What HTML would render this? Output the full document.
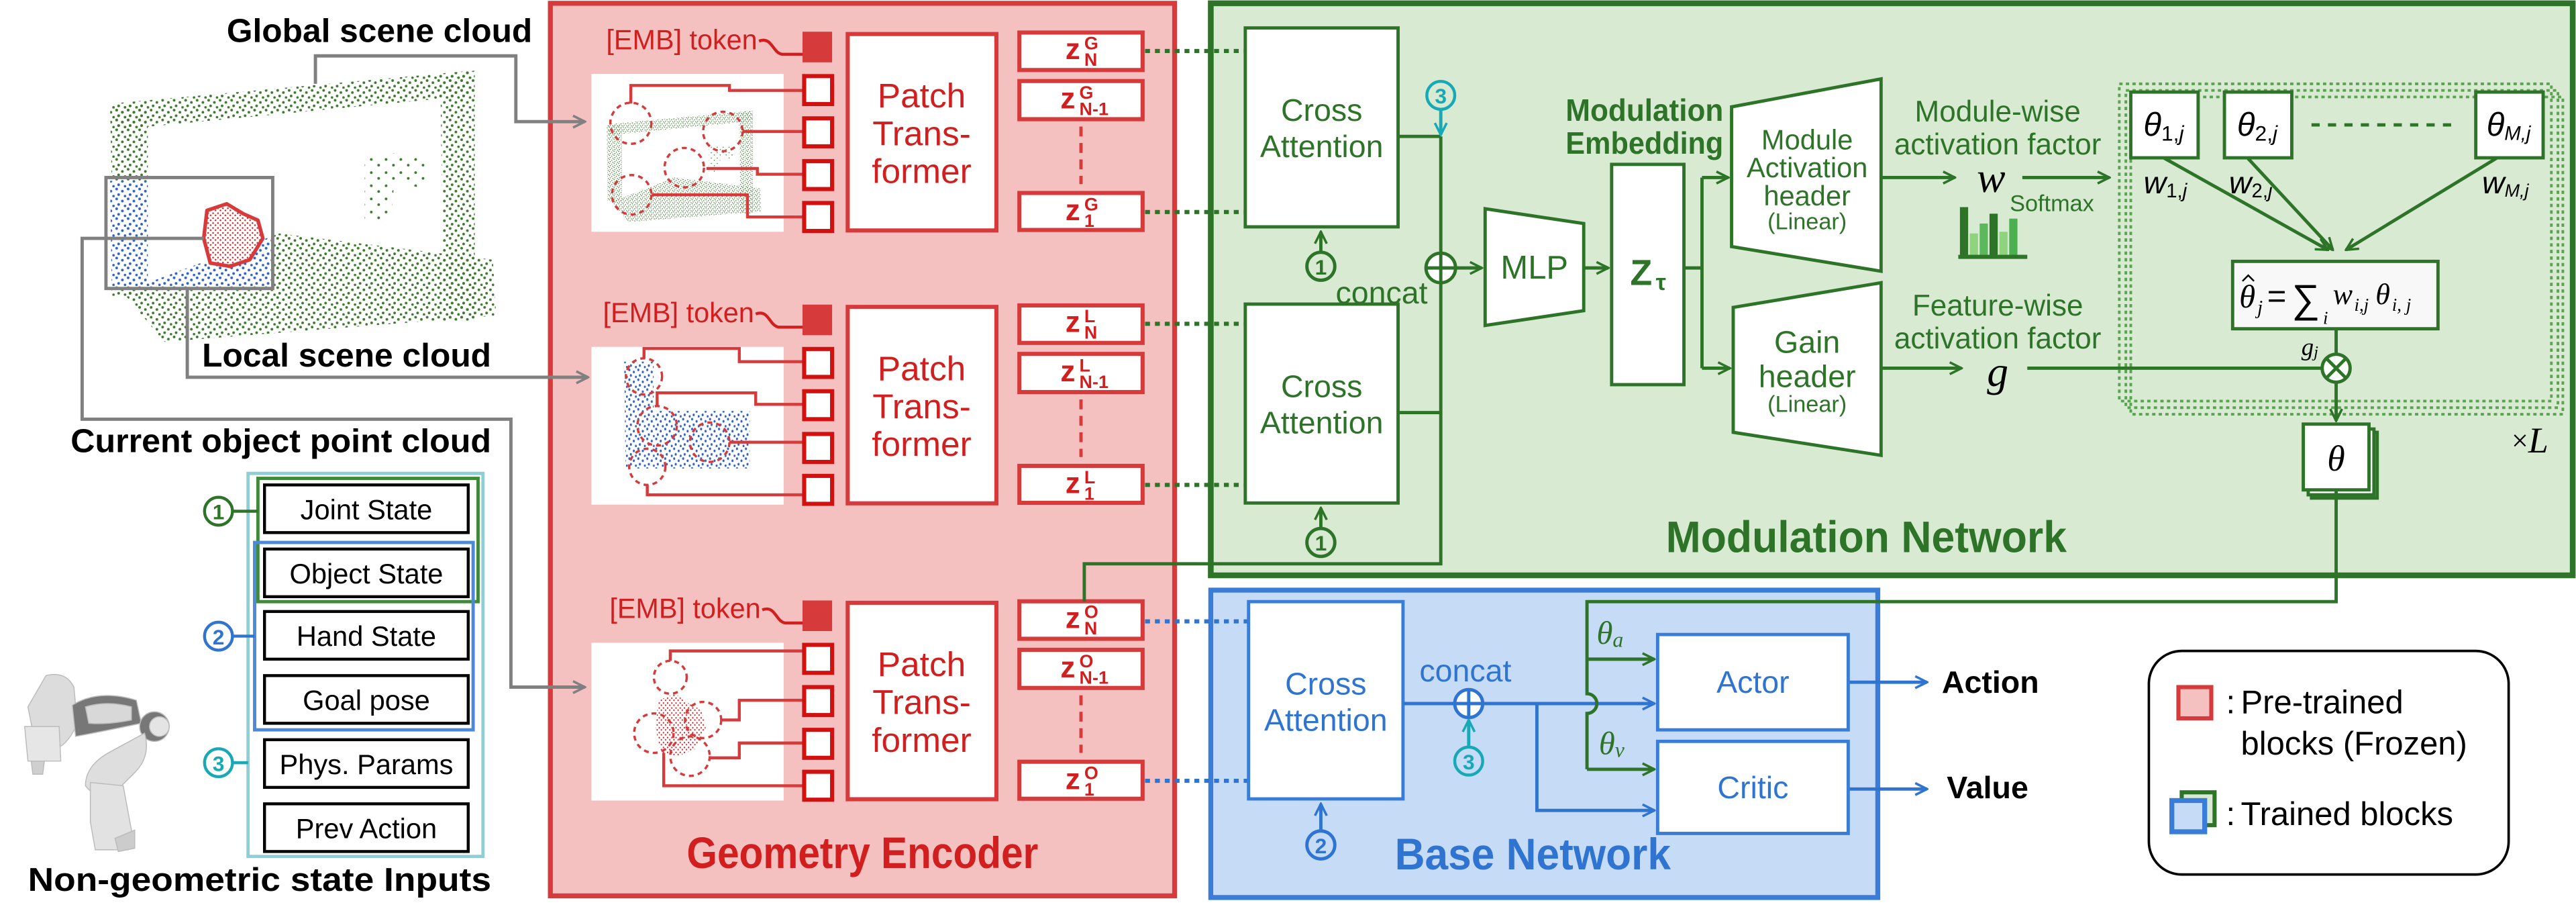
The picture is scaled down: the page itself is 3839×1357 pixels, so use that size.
<!DOCTYPE html>
<html><head><meta charset="utf-8">
<style>
html,body{margin:0;padding:0;background:#fff;}
svg{display:block;}
text{font-family:"Liberation Sans Narrow","Liberation Sans",sans-serif;}
.m{font-family:"Liberation Serif",serif;font-style:italic;}
.rt{fill:#d11f1f;}
</style></head>
<body>
<svg xmlns="http://www.w3.org/2000/svg" width="3839" height="1357" viewBox="0 0 1568 554.2" preserveAspectRatio="none">
<defs>
<marker id="ag" viewBox="0 0 10 10" refX="9" refY="5" markerWidth="9" markerHeight="9" markerUnits="userSpaceOnUse" orient="auto"><path d="M1,1 L9,5 L1,9" fill="none" stroke="#808080" stroke-width="1.6"/></marker>
<marker id="agr" viewBox="0 0 10 10" refX="9" refY="5" markerWidth="9" markerHeight="9" markerUnits="userSpaceOnUse" orient="auto"><path d="M1,1 L9,5 L1,9" fill="none" stroke="#2e7428" stroke-width="1.6"/></marker>
<marker id="abl" viewBox="0 0 10 10" refX="9" refY="5" markerWidth="9" markerHeight="9" markerUnits="userSpaceOnUse" orient="auto"><path d="M1,1 L9,5 L1,9" fill="none" stroke="#2f74d0" stroke-width="1.6"/></marker>
<marker id="atl" viewBox="0 0 10 10" refX="9" refY="5" markerWidth="9" markerHeight="9" markerUnits="userSpaceOnUse" orient="auto"><path d="M1,1 L9,5 L1,9" fill="none" stroke="#17a9b6" stroke-width="1.6"/></marker>
<pattern id="pg" width="7" height="6" patternUnits="userSpaceOnUse"><g fill="#3d7a2e"><circle cx="1" cy="1" r=".8"/><circle cx="4.5" cy="2.3" r=".8"/><circle cx="2.2" cy="4.4" r=".8"/><circle cx="6.1" cy="5.3" r=".75"/></g></pattern>
<pattern id="pgs" width="9" height="8" patternUnits="userSpaceOnUse"><g fill="#3d7a2e"><circle cx="1" cy="1" r=".8"/><circle cx="5.5" cy="4.5" r=".8"/></g></pattern>
<pattern id="pb" width="7" height="6" patternUnits="userSpaceOnUse"><g fill="#2f62c8"><circle cx="1" cy="1" r=".8"/><circle cx="4.5" cy="2.3" r=".8"/><circle cx="2.2" cy="4.4" r=".8"/><circle cx="6.1" cy="5.3" r=".75"/></g></pattern>
<pattern id="pr" width="3" height="3" patternUnits="userSpaceOnUse"><g fill="#d11f1f"><circle cx=".7" cy=".7" r=".5"/><circle cx="2.2" cy="2" r=".5"/></g></pattern>
<g id="cloudG">
<polygon points="68,63 287,43 289,58 70,79" fill="url(#pg)"/>
<polygon points="67,65 90,63 90,110 68,110" fill="url(#pg)"/>
<polygon points="268,45 289,43 289,195 270,195" fill="url(#pg)"/>
<polygon points="75,178 170,142 300,158 302,192 100,208" fill="url(#pg)"/>
<polygon points="222,135 222,97 245,92 262,100 258,115 240,110 238,135" fill="url(#pgs)"/>
</g>
<g id="cloudB">
<polygon points="67,110 90,110 90,175 68,175" fill="url(#pb)"/>
<polygon points="90,172 165,144 165,175 90,175" fill="url(#pb)"/>
</g>
</defs>

<!-- ===== Big panels ===== -->
<rect x="335" y="2" width="380" height="543" fill="#f5c0c0" stroke="#d63a3a" stroke-width="3"/>
<rect x="737" y="2" width="829" height="348" fill="#d9ead3" stroke="#2e7428" stroke-width="3.5"/>
<rect x="737" y="359" width="406" height="187" fill="#c6dbf6" stroke="#3a7dd8" stroke-width="3"/>

<!-- ===== Left: point cloud ===== -->
<polygon points="68,63 287,43 289,58 70,79" fill="url(#pg)"/>
<polygon points="67,65 90,63 90,110 68,110" fill="url(#pg)"/>
<polygon points="68,175 90,175 90,180 68,180" fill="url(#pg)"/>
<polygon points="268,45 289,43 289,195 270,195" fill="url(#pg)"/>
<polygon points="75,178 170,142 300,158 302,192 100,208" fill="url(#pg)"/>
<polygon points="222,135 222,97 245,92 262,100 258,115 240,110 238,135" fill="url(#pgs)"/>
<polygon points="90,172 165,144 166,176 90,176" fill="#fff"/>
<polygon points="67,110 90,110 90,175 68,175" fill="url(#pb)"/>
<polygon points="90,172 165,144 165,175 90,175" fill="url(#pb)"/>
<path d="M126,128 L138,124 L148,130 L157,134 L160,145 L152,158 L140,162 L128,160 L124,145 Z" fill="#fff"/>
<path d="M126,128 L138,124 L148,130 L157,134 L160,145 L152,158 L140,162 L128,160 L124,145 Z" fill="url(#pr)" stroke="#d63a3a" stroke-width="2.2" stroke-linejoin="round"/>

<text x="231" y="25.5" font-size="20" font-weight="bold" text-anchor="middle" textLength="186" lengthAdjust="spacingAndGlyphs">Global scene cloud</text>
<text x="211" y="223" font-size="20" font-weight="bold" text-anchor="middle" textLength="176" lengthAdjust="spacingAndGlyphs">Local scene cloud</text>
<text x="171" y="275" font-size="20" font-weight="bold" text-anchor="middle" textLength="256" lengthAdjust="spacingAndGlyphs">Current object point cloud</text>
<rect x="64.5" y="108" width="101.5" height="67.5" fill="none" stroke="#808080" stroke-width="2"/>
<path d="M192,51 V34 H314 V74 H356" fill="none" stroke="#808080" stroke-width="2" marker-end="url(#ag)"/>
<path d="M114,175.5 V229.5 H358" fill="none" stroke="#808080" stroke-width="2" marker-end="url(#ag)"/>
<path d="M124,145 H50 V255 H311 V418 H356" fill="none" stroke="#808080" stroke-width="2" marker-end="url(#ag)"/>

<!-- state inputs -->
<rect x="151" y="288" width="143" height="233" fill="none" stroke="#8ccfd6" stroke-width="2"/>
<rect x="157" y="291" width="134" height="75" fill="none" stroke="#3f8a3a" stroke-width="2"/>
<rect x="155" y="330" width="133" height="114" fill="none" stroke="#4a8ad8" stroke-width="2"/>
<g fill="#fff" stroke="#000" stroke-width="1.8">
<rect x="161" y="295" width="124" height="29"/><rect x="161" y="334" width="124" height="29"/>
<rect x="161" y="372" width="124" height="29"/><rect x="161" y="411" width="124" height="29"/>
<rect x="161" y="450" width="124" height="29"/><rect x="161" y="489" width="124" height="29"/>
</g>
<g font-size="17" text-anchor="middle" fill="#000" dominant-baseline="central">
<text x="223" y="310">Joint State</text><text x="223" y="349">Object State</text>
<text x="223" y="387">Hand State</text><text x="223" y="426">Goal pose</text>
<text x="223" y="465">Phys. Params</text><text x="223" y="504">Prev Action</text>
</g>
<g stroke-width="1.8" fill="none">
<circle cx="133" cy="311" r="8.5" stroke="#2e7428"/><path d="M141.5,311 H157" stroke="#2e7428"/>
<circle cx="133" cy="387" r="8.5" stroke="#2f74d0"/><path d="M141.5,387 H155" stroke="#2f74d0"/>
<circle cx="133" cy="464" r="8.5" stroke="#17a9b6"/><path d="M141.5,464 H151" stroke="#17a9b6"/>
</g>
<g font-size="13" font-weight="bold" text-anchor="middle" dominant-baseline="central">
<text x="133" y="311.5" fill="#2e7428">1</text><text x="133" y="387.5" fill="#2f74d0">2</text><text x="133" y="464.5" fill="#17a9b6">3</text>
</g>
<text x="158" y="542" font-size="20" font-weight="bold" text-anchor="middle" textLength="282" lengthAdjust="spacingAndGlyphs">Non-geometric state Inputs</text>

<!-- robot -->
<g stroke="#bbb" stroke-width="0.6">
<path d="M28,411 Q40,408 45,418 L47,440 Q42,452 35,455 L22,455 L17,430 Z" fill="#dcdcdc"/>
<path d="M15,442 L36,442 L37,463 L17,463 Z" fill="#e6e6e6"/>
<path d="M19,463 L27,463 L26,471 L20,471 Z" fill="#cfcfcf"/>
<path d="M44,429 Q60,419 83,426 L86,440 Q62,445 46,448 Z" fill="#777"/>
<path d="M52,430 Q65,426 80,430 L80,438 Q65,441 54,440 Z" fill="#d8d8d8"/>
<circle cx="94" cy="442" r="9" fill="#777"/><circle cx="97" cy="442" r="6" fill="#e4e4e4"/>
<path d="M88,446 Q92,460 82,470 L70,482 Q60,488 52,478 Q52,466 66,458 Z" fill="#dedede"/>
<path d="M55,476 L75,478 L80,505 L78,517 L58,517 L55,500 Z" fill="#e2e2e2"/>
<path d="M70,510 L82,505 L82,516 L72,518 Z" fill="#ccc"/>
</g>

<!-- ===== Geometry Encoder rows ===== -->
<!-- Row 1 -->
<g>
<text x="415" y="30" font-size="17" class="rt" text-anchor="middle" textLength="92" lengthAdjust="spacingAndGlyphs">[EMB] token</text>
<path d="M462,25 C470,22 470,32 476,33 L489,33" fill="none" stroke="#d11f1f" stroke-width="1.8"/>
<rect x="488.5" y="19.3" width="18" height="18.6" fill="#d63a3a"/>
<rect x="360" y="45" width="117" height="96" fill="#fff"/>
<g transform="translate(342.6,49.8) scale(0.4,0.41)">
<polygon points="68,63 287,43 289,58 70,79" fill="url(#pg)"/>
<polygon points="67,65 90,63 90,178 68,178" fill="url(#pg)"/>
<polygon points="268,45 289,43 289,195 270,195" fill="url(#pg)"/>
<polygon points="75,178 170,142 300,158 302,192 100,208" fill="url(#pg)"/>
<polygon points="222,135 222,97 245,92 262,100 258,115 240,110 238,135" fill="url(#pgs)"/>
</g>
<g fill="none" stroke="#d63a3a" stroke-width="1.4" stroke-dasharray="3 2.5">
<circle cx="384" cy="75" r="12.5"/><circle cx="440" cy="80" r="12"/><circle cx="416.5" cy="102" r="12"/><circle cx="384.5" cy="118.5" r="12"/>
</g>
<g fill="none" stroke="#d63a3a" stroke-width="1.8">
<path d="M384,63 V52 H444 V55 H489"/><path d="M452,80 H489"/><path d="M430,102.5 H461 V106 H489"/><path d="M397,118.5 H455 V132 H489"/>
</g>
<g fill="#fff" stroke="#d11010" stroke-width="2.5">
<rect x="489.5" y="46.3" width="17" height="17"/><rect x="489.5" y="72" width="17" height="17"/><rect x="489.5" y="98" width="17" height="17"/><rect x="489.5" y="123.5" width="17" height="17"/>
</g>
<rect x="516" y="20.7" width="90.5" height="119.5" fill="#fff" stroke="#d63a3a" stroke-width="2.5"/>
<g font-size="21" class="rt" text-anchor="middle" dominant-baseline="central"><text x="561" y="58">Patch</text><text x="561" y="81">Trans-</text><text x="561" y="104">former</text></g>
<g fill="#fff" stroke="#d63a3a" stroke-width="2.5">
<rect x="620.5" y="19.8" width="75" height="22.8"/><rect x="620.5" y="49.3" width="75" height="23.2"/><rect x="620.5" y="117.4" width="75" height="22.5"/>
</g>
<path d="M658,77 V112" stroke="#d63a3a" stroke-width="2" stroke-dasharray="6 4"/>
<g class="rt" font-weight="bold">
<text x="653" y="36" font-size="18" text-anchor="middle">z</text><text x="660" y="30" font-size="11">G</text><text x="660" y="40" font-size="11">N</text>
<text x="650" y="66" font-size="18" text-anchor="middle">z</text><text x="657" y="60" font-size="11">G</text><text x="657" y="70" font-size="11">N-1</text>
<text x="653" y="134" font-size="18" text-anchor="middle">z</text><text x="660" y="128" font-size="11">G</text><text x="660" y="138" font-size="11">1</text>
</g>
</g>

<!-- Row 2 -->
<g transform="translate(0,166)">
<text x="413" y="30" font-size="17" class="rt" text-anchor="middle" textLength="92" lengthAdjust="spacingAndGlyphs">[EMB] token</text>
<path d="M460,25 C468,22 468,32 474,33 L489,33" fill="none" stroke="#d11f1f" stroke-width="1.8"/>
<rect x="488.5" y="19.3" width="18" height="18.6" fill="#d63a3a"/>
<rect x="360" y="45" width="117" height="96" fill="#fff"/>
<g transform="translate(327.7,-56) scale(0.78,1.0)">
<polygon points="67,110 90,110 90,175 68,175" fill="url(#pb)"/>
<polygon points="90,140 165,140 165,175 90,175" fill="url(#pb)"/>
</g>
<g fill="none" stroke="#d63a3a" stroke-width="1.4" stroke-dasharray="3 2.5">
<circle cx="392" cy="63" r="11"/><circle cx="400" cy="93" r="12"/><circle cx="432" cy="103" r="12"/><circle cx="394" cy="118" r="11"/>
</g>
<g fill="none" stroke="#d63a3a" stroke-width="1.8">
<path d="M392,52 V46 H450 V54 H489"/><path d="M400,81 V73 H460 V80 H489"/><path d="M444,103 H489"/><path d="M394,129 V135 H489"/>
</g>
<g fill="#fff" stroke="#d11010" stroke-width="2.5">
<rect x="489.5" y="46.3" width="17" height="17"/><rect x="489.5" y="72" width="17" height="17"/><rect x="489.5" y="98" width="17" height="17"/><rect x="489.5" y="123.5" width="17" height="17"/>
</g>
<rect x="516" y="20.7" width="90.5" height="119.5" fill="#fff" stroke="#d63a3a" stroke-width="2.5"/>
<g font-size="21" class="rt" text-anchor="middle" dominant-baseline="central"><text x="561" y="58">Patch</text><text x="561" y="81">Trans-</text><text x="561" y="104">former</text></g>
<g fill="#fff" stroke="#d63a3a" stroke-width="2.5">
<rect x="620.5" y="19.8" width="75" height="22.8"/><rect x="620.5" y="49.3" width="75" height="23.2"/><rect x="620.5" y="117.4" width="75" height="22.5"/>
</g>
<path d="M658,77 V112" stroke="#d63a3a" stroke-width="2" stroke-dasharray="6 4"/>
<g class="rt" font-weight="bold">
<text x="653" y="36" font-size="18" text-anchor="middle">z</text><text x="660" y="30" font-size="11">L</text><text x="660" y="40" font-size="11">N</text>
<text x="650" y="66" font-size="18" text-anchor="middle">z</text><text x="657" y="60" font-size="11">L</text><text x="657" y="70" font-size="11">N-1</text>
<text x="653" y="134" font-size="18" text-anchor="middle">z</text><text x="660" y="128" font-size="11">L</text><text x="660" y="138" font-size="11">1</text>
</g>
</g>

<!-- Row 3 -->
<g transform="translate(0,346)">
<text x="417" y="30" font-size="17" class="rt" text-anchor="middle" textLength="92" lengthAdjust="spacingAndGlyphs">[EMB] token</text>
<path d="M464,25 C472,22 472,32 478,33 L489,33" fill="none" stroke="#d11f1f" stroke-width="1.8"/>
<rect x="488.5" y="19.3" width="18" height="18.6" fill="#d63a3a"/>
<rect x="360" y="45" width="117" height="96" fill="#fff"/>
<g transform="translate(293.6,-48) scale(0.85,1.0)">
<path d="M126,128 L138,124 L148,130 L157,134 L160,145 L152,158 L140,162 L128,160 L124,145 Z" fill="url(#pr)"/>
</g>
<g fill="none" stroke="#d63a3a" stroke-width="1.4" stroke-dasharray="3 2.5">
<circle cx="408" cy="66" r="10"/><circle cx="428" cy="92" r="11"/><circle cx="398" cy="100" r="12"/><circle cx="420" cy="114" r="12"/>
</g>
<g fill="none" stroke="#d63a3a" stroke-width="1.8">
<path d="M408,56 V50 H489"/><path d="M439,92 H450 V80 H489"/><path d="M432,115 H450 V106 H489"/><path d="M404,112 V132 H489"/>
</g>
<g fill="#fff" stroke="#d11010" stroke-width="2.5">
<rect x="489.5" y="46.3" width="17" height="17"/><rect x="489.5" y="72" width="17" height="17"/><rect x="489.5" y="98" width="17" height="17"/><rect x="489.5" y="123.5" width="17" height="17"/>
</g>
<rect x="516" y="20.7" width="90.5" height="119.5" fill="#fff" stroke="#d63a3a" stroke-width="2.5"/>
<g font-size="21" class="rt" text-anchor="middle" dominant-baseline="central"><text x="561" y="58">Patch</text><text x="561" y="81">Trans-</text><text x="561" y="104">former</text></g>
<g fill="#fff" stroke="#d63a3a" stroke-width="2.5">
<rect x="620.5" y="19.8" width="75" height="22.8"/><rect x="620.5" y="49.3" width="75" height="23.2"/><rect x="620.5" y="117.4" width="75" height="22.5"/>
</g>
<path d="M658,77 V112" stroke="#d63a3a" stroke-width="2" stroke-dasharray="6 4"/>
<g class="rt" font-weight="bold">
<text x="653" y="36" font-size="18" text-anchor="middle">z</text><text x="660" y="30" font-size="11">O</text><text x="660" y="40" font-size="11">N</text>
<text x="650" y="66" font-size="18" text-anchor="middle">z</text><text x="657" y="60" font-size="11">O</text><text x="657" y="70" font-size="11">N-1</text>
<text x="653" y="134" font-size="18" text-anchor="middle">z</text><text x="660" y="128" font-size="11">O</text><text x="660" y="138" font-size="11">1</text>
</g>
</g>

<text x="525" y="528" font-size="27" font-weight="bold" fill="#d11f1f" text-anchor="middle" textLength="214" lengthAdjust="spacingAndGlyphs">Geometry Encoder</text>

<!-- dotted links -->
<g stroke="#2e7428" stroke-width="2.5" stroke-dasharray="3 3">
<path d="M697,31 H758"/><path d="M697,129 H758"/><path d="M697,197 H758"/><path d="M697,295 H758"/>
</g>
<g stroke="#2f74d0" stroke-width="2.5" stroke-dasharray="3 3">
<path d="M697,378 H760"/><path d="M697,475 H760"/>
</g>

<!-- ===== Modulation Network ===== -->
<g fill="#fff" stroke="#2e7428" stroke-width="2">
<rect x="758" y="17" width="93" height="121"/>
<rect x="758" y="185" width="93" height="121"/>
</g>
<g font-size="19" fill="#2e7428" text-anchor="middle" dominant-baseline="central">
<text x="804.5" y="67">Cross</text><text x="804.5" y="89">Attention</text>
<text x="804.5" y="235">Cross</text><text x="804.5" y="257">Attention</text>
</g>
<g fill="none" stroke="#2e7428" stroke-width="2">
<path d="M851,83 H877"/><path d="M851,251 H877"/>
<path d="M877,83 V343 H737"/>
<path d="M660,366 V343 H737"/>
<path d="M804,153 V141" marker-end="url(#agr)"/>
<path d="M804,321 V309" marker-end="url(#agr)"/>
<circle cx="804" cy="162" r="8.5"/><circle cx="804" cy="330" r="8.5"/>
<circle cx="877" cy="163" r="9" fill="#fff"/>
<path d="M868,163 H886 M877,154 V172"/>
<path d="M886,163 H902" marker-end="url(#agr)"/>
</g>
<g font-size="13" font-weight="bold" text-anchor="middle" dominant-baseline="central" fill="#2e7428">
<text x="804" y="162.5">1</text><text x="804" y="330.5">1</text>
</g>
<circle cx="877" cy="58" r="8.5" fill="none" stroke="#17a9b6" stroke-width="1.8"/>
<text x="877" y="58.5" font-size="13" font-weight="bold" text-anchor="middle" dominant-baseline="central" fill="#17a9b6">3</text>
<path d="M877,67 V82" stroke="#17a9b6" stroke-width="2" fill="none" marker-end="url(#atl)"/>
<text x="841" y="178" font-size="19" fill="#2e7428" text-anchor="middle" dominant-baseline="central">concat</text>

<polygon points="904,127 964,136 964,189 904,198" fill="#fff" stroke="#2e7428" stroke-width="2"/>
<text x="934" y="163" font-size="20" fill="#2e7428" text-anchor="middle" dominant-baseline="central">MLP</text>
<path d="M964,163 H979" stroke="#2e7428" stroke-width="2" marker-end="url(#agr)"/>
<rect x="981" y="100" width="44" height="134" fill="#fff" stroke="#2e7428" stroke-width="2"/>
<text x="999" y="166" font-size="22" font-weight="bold" fill="#2e7428" text-anchor="middle" dominant-baseline="central">Z</text>
<text x="1011" y="172" font-size="14" font-weight="bold" fill="#2e7428" text-anchor="middle" dominant-baseline="central">τ</text>
<g font-size="19" font-weight="bold" fill="#2e7428" text-anchor="middle" dominant-baseline="central">
<text x="1001" y="67" textLength="96" lengthAdjust="spacingAndGlyphs">Modulation</text><text x="1001" y="87" textLength="96" lengthAdjust="spacingAndGlyphs">Embedding</text>
</g>
<g fill="none" stroke="#2e7428" stroke-width="2">
<path d="M1025,163 H1036 M1036,108 V224"/>
<path d="M1036,108 H1052" marker-end="url(#agr)"/>
<path d="M1036,224 H1053" marker-end="url(#agr)"/>
</g>
<polygon points="1054,65 1145,48 1145,165 1054,150" fill="#fff" stroke="#2e7428" stroke-width="2"/>
<polygon points="1055,187 1145,172 1145,277 1055,263" fill="#fff" stroke="#2e7428" stroke-width="2"/>
<g fill="#2e7428" text-anchor="middle" dominant-baseline="central">
<text x="1100" y="85" font-size="17">Module</text><text x="1100" y="102" font-size="17">Activation</text>
<text x="1100" y="119" font-size="17">header</text><text x="1100" y="135" font-size="14">(Linear)</text>
<text x="1100" y="208" font-size="19">Gain</text><text x="1100" y="229" font-size="19">header</text>
<text x="1100" y="246" font-size="14">(Linear)</text>
</g>
<g font-size="18" fill="#2e7428" text-anchor="middle" dominant-baseline="central">
<text x="1216" y="68">Module-wise</text><text x="1216" y="88">activation factor</text>
<text x="1216" y="186">Feature-wise</text><text x="1216" y="206">activation factor</text>
<text x="1249" y="124" font-size="14">Softmax</text>
</g>
<text x="1212" y="108" class="m" font-size="26" text-anchor="middle" dominant-baseline="central">w</text>
<text x="1216" y="226" class="m" font-size="26" text-anchor="middle" dominant-baseline="central">g</text>
<g fill="none" stroke="#2e7428" stroke-width="2">
<path d="M1145,108 H1190" marker-end="url(#agr)"/>
<path d="M1231,108 H1284" marker-end="url(#agr)"/>
<path d="M1145,224 H1194" marker-end="url(#agr)"/>
<path d="M1234,224 H1413"/>
</g>
<g>
<rect x="1193" y="126" width="5" height="30" fill="#2e7428"/>
<rect x="1199" y="142" width="5" height="14" fill="#8fd37f"/>
<rect x="1205" y="136" width="5" height="20" fill="#5cb85c"/>
<rect x="1211" y="130" width="5" height="26" fill="#2e7428"/>
<rect x="1217" y="141" width="5" height="15" fill="#8fd37f"/>
<rect x="1223" y="133" width="5" height="23" fill="#4caf50"/>
<rect x="1192" y="155" width="42" height="2.5" fill="#2e7428"/>
</g>
<g fill="none" stroke="#5aa350" stroke-width="1.6" stroke-dasharray="2 2">
<rect x="1297" y="59" width="263" height="193"/>
<rect x="1294" y="55" width="263" height="193"/>
<rect x="1290" y="51" width="263" height="193"/>
</g>
<g fill="#fff" stroke="#2e7428" stroke-width="2">
<rect x="1297" y="56" width="41" height="40"/><rect x="1354" y="56" width="41" height="40"/><rect x="1507" y="56" width="41" height="40"/>
</g>
<path d="M1407,76 H1495" stroke="#2e7428" stroke-width="2" stroke-dasharray="5 5"/>
<g class="m" text-anchor="middle" dominant-baseline="central" fill="#000">
<text x="1317" y="76" font-size="20">θ<tspan font-size="13" font-style="normal" dy="5">1,</tspan><tspan font-size="13" dy="0">j</tspan></text>
<text x="1374" y="76" font-size="20">θ<tspan font-size="13" font-style="normal" dy="5">2,</tspan><tspan font-size="13">j</tspan></text>
<text x="1527" y="76" font-size="20">θ<tspan font-size="12" dy="5">M,j</tspan></text>
<text x="1318" y="111" font-size="19">w<tspan font-size="12" font-style="normal" dy="5">1,</tspan><tspan font-size="12">j</tspan></text>
<text x="1370" y="111" font-size="19">w<tspan font-size="12" font-style="normal" dy="5">2,</tspan><tspan font-size="12">j</tspan></text>
<text x="1525" y="111" font-size="19">w<tspan font-size="11" dy="5">M,j</tspan></text>
</g>
<g fill="none" stroke="#2e7428" stroke-width="2">
<path d="M1317,96 L1417,152" marker-end="url(#agr)"/>
<path d="M1368,96 L1420,152" marker-end="url(#agr)"/>
<path d="M1520,96 L1428,152" marker-end="url(#agr)"/>
</g>
<rect x="1359" y="159" width="125" height="41" fill="#f8f8f8" stroke="#2e7428" stroke-width="2"/>
<g fill="#000">
<text x="1363" y="187" class="m" font-size="20">θ</text>
<path d="M1365,171 L1368.5,167.5 L1372,171" fill="none" stroke="#000" stroke-width="1"/>
<text x="1374" y="191" class="m" font-size="12">j</text>
<text x="1380" y="187" font-family="Liberation Serif" font-size="20">=</text>
<text x="1395" y="190" font-family="DejaVu Serif" font-size="24">∑</text>
<text x="1414" y="197" class="m" font-size="11">i</text>
<text x="1420" y="185" class="m" font-size="18">w</text>
<text x="1433" y="189" class="m" font-size="11">i,j</text>
<text x="1446" y="185" class="m" font-size="18">θ</text>
<text x="1456" y="189" class="m" font-size="11">i, j</text>
</g>
<path d="M1422,200 V215" stroke="#2e7428" stroke-width="2"/>
<text x="1406" y="211" class="m" font-size="15" text-anchor="middle" dominant-baseline="central">g<tspan font-size="10" dy="3">j</tspan></text>
<circle cx="1422" cy="224" r="8.5" fill="#fff" stroke="#2e7428" stroke-width="2"/>
<path d="M1416,218 L1428,230 M1428,218 L1416,230" stroke="#2e7428" stroke-width="2"/>
<path d="M1422,233 V256" stroke="#2e7428" stroke-width="2" marker-end="url(#agr)"/>
<g fill="#fff" stroke="#2e7428" stroke-width="2">
<rect x="1407" y="263" width="40" height="40"/><rect x="1405" y="261" width="40" height="40"/><rect x="1402" y="258" width="40" height="40"/>
</g>
<text x="1422" y="279" class="m" font-size="22" text-anchor="middle" dominant-baseline="central">θ</text>
<text x="1540" y="268" class="m" font-size="22" text-anchor="middle" dominant-baseline="central"><tspan font-style="normal" font-size="18">×</tspan>L</text>
<text x="1136" y="327" font-size="27" font-weight="bold" fill="#2e7428" text-anchor="middle" dominant-baseline="central" textLength="244" lengthAdjust="spacingAndGlyphs">Modulation Network</text>

<!-- ===== Base Network ===== -->
<rect x="760" y="366" width="94" height="120" fill="#fff" stroke="#3a7dd8" stroke-width="2"/>
<g font-size="19" fill="#2f74d0" text-anchor="middle" dominant-baseline="central">
<text x="807" y="416">Cross</text><text x="807" y="438">Attention</text>
<text x="892" y="408">concat</text>
</g>
<g fill="none" stroke="#2f74d0" stroke-width="2">
<path d="M854,428 H1007" marker-end="url(#abl)"/>
<path d="M935.5,428 V493 H1007" marker-end="url(#abl)"/>
<path d="M1125,415 H1173" marker-end="url(#abl)"/>
<path d="M1125,480 H1173" marker-end="url(#abl)"/>
<path d="M804,505 V489" marker-end="url(#abl)"/>
<circle cx="804" cy="514" r="8.5"/>
<circle cx="894" cy="428" r="8.5" fill="#fff"/>
<path d="M885.5,428 H902.5 M894,419.5 V436.5"/>
</g>
<text x="804" y="514.5" font-size="13" font-weight="bold" text-anchor="middle" dominant-baseline="central" fill="#2f74d0">2</text>
<circle cx="894" cy="463" r="8.5" fill="none" stroke="#17a9b6" stroke-width="1.8"/>
<text x="894" y="463.5" font-size="13" font-weight="bold" text-anchor="middle" dominant-baseline="central" fill="#17a9b6">3</text>
<path d="M894,454 V438" stroke="#17a9b6" stroke-width="2" fill="none" marker-end="url(#atl)"/>
<g fill="none" stroke="#2e7428" stroke-width="2">
<path d="M1422,298 V366 H966 V422 A6,6 0 0 1 966,434 V468"/>
<path d="M966,401 H1007" marker-end="url(#agr)"/>
<path d="M966,468 H1007" marker-end="url(#agr)"/>
</g>
<text x="980" y="385" class="m" font-size="20" fill="#2e7428" text-anchor="middle" dominant-baseline="central">θ<tspan font-size="13" dy="4">a</tspan></text>
<text x="981" y="452" class="m" font-size="20" fill="#2e7428" text-anchor="middle" dominant-baseline="central">θ<tspan font-size="13" dy="4">v</tspan></text>
<g fill="#fff" stroke="#3a7dd8" stroke-width="2">
<rect x="1009" y="386" width="116" height="58"/><rect x="1009" y="451" width="116" height="56"/>
</g>
<g font-size="19" fill="#2f74d0" text-anchor="middle" dominant-baseline="central">
<text x="1067" y="415">Actor</text><text x="1067" y="479">Critic</text>
</g>
<g font-size="19" fill="#000" font-weight="bold" dominant-baseline="central">
<text x="1182" y="415">Action</text><text x="1185" y="479">Value</text>
</g>
<text x="933" y="520" font-size="27" font-weight="bold" fill="#2f74d0" text-anchor="middle" dominant-baseline="central" textLength="168" lengthAdjust="spacingAndGlyphs">Base Network</text>

<!-- ===== Legend ===== -->
<rect x="1308" y="396" width="219" height="136" rx="20" fill="#fff" stroke="#000" stroke-width="1.5"/>
<rect x="1326" y="418" width="20" height="19" fill="#f5c0c0" stroke="#d63a3a" stroke-width="2.5"/>
<rect x="1328" y="482" width="20" height="20" fill="#d9ead3" stroke="#2e7428" stroke-width="2.5"/>
<rect x="1322" y="487" width="20" height="19" fill="#c6dbf6" stroke="#3a7dd8" stroke-width="3"/>
<g font-size="20" fill="#000">
<text x="1355" y="434">:</text><text x="1364" y="434">Pre-trained</text>
<text x="1364" y="459">blocks (Frozen)</text>
<text x="1355" y="502">:</text><text x="1364" y="502">Trained blocks</text>
</g>
</svg>
</body></html>
